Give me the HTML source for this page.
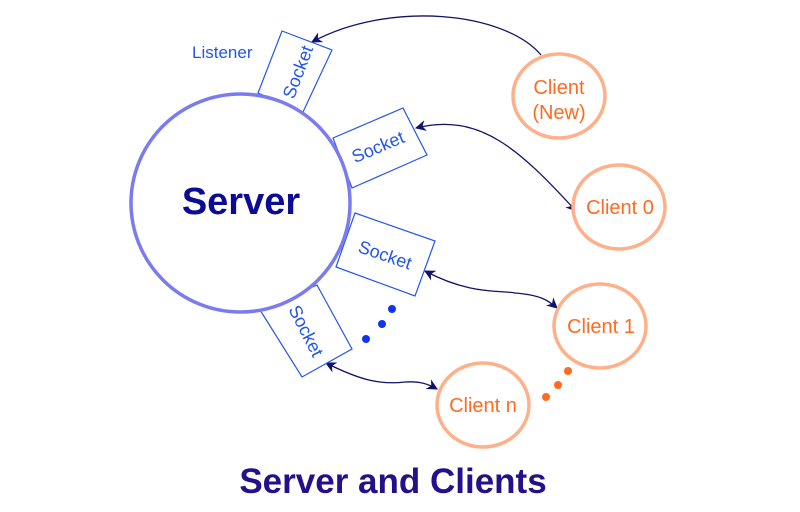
<!DOCTYPE html>
<html><head><meta charset="utf-8"><style>
html,body{margin:0;padding:0;background:#fff}
svg{display:block}
text{font-family:"Liberation Sans",sans-serif}
</style></head><body>
<svg width="800" height="512" viewBox="0 0 800 512">
<defs>
<marker id="a" viewBox="0 0 10 10" refX="9" refY="5" markerWidth="11" markerHeight="11" orient="auto-start-reverse" markerUnits="userSpaceOnUse">
<path d="M0,0 L10,5 L0,10 L3,5 Z" fill="#12126a"/></marker>
</defs>
<g fill="none" stroke="#12126a" stroke-width="1.3">
<path d="M541,55 C505,12 390,0 312,42" marker-end="url(#a)"/>
<path d="M416,128 C480,112 520,150 576,211" marker-start="url(#a)" marker-end="url(#a)"/>
<path d="M425,271 C470,295 500,290 515,293 C540,295 548,300 557,308" marker-start="url(#a)" marker-end="url(#a)"/>
<path d="M326,363 C360,380 380,385 405,382 C420,381 428,384 437,389" marker-start="url(#a)" marker-end="url(#a)"/>
</g>
<g fill="#fff" stroke="#2255ee" stroke-width="1.2">
<polygon points="282,31 332,50 303,112 258,93"/>
<polygon points="333,138 403,108 427,155 352,188"/>
<polygon points="355,213 435,241 415,296 336,267"/>
<polygon points="260,310 317,285 352,349 302,377"/>
</g>
<ellipse cx="240.5" cy="203" rx="109.5" ry="109" fill="#fff" stroke="#7b7bf0" stroke-width="3.5"/>
<text x="241" y="214" font-size="38" font-weight="bold" fill="#0b0b96" text-anchor="middle">Server</text>
<g fill="#2255ee" font-size="18" text-anchor="middle">
<text transform="translate(298,72) rotate(-69)" y="6">Socket</text>
<text transform="translate(378,147) rotate(-23)" y="6">Socket</text>
<text transform="translate(385,255) rotate(19)" y="6">Socket</text>
<text transform="translate(306,331) rotate(63)" y="6">Socket</text>
</g>
<text x="192" y="58" font-size="17" fill="#2255ee">Listener</text>
<g fill="#1133ee">
<circle cx="392" cy="309" r="4"/><circle cx="382" cy="324" r="4"/><circle cx="366" cy="339" r="4"/>
</g>
<g fill="#ff6a22">
<circle cx="568" cy="371" r="4"/><circle cx="558" cy="385" r="4"/><circle cx="546" cy="397" r="4"/>
</g>
<g fill="#fff" stroke="#fdb08a" stroke-width="3.5">
<ellipse cx="559" cy="96" rx="46" ry="42"/>
<ellipse cx="619" cy="207" rx="46" ry="42"/>
<ellipse cx="600" cy="326" rx="46" ry="42"/>
<ellipse cx="483" cy="405" rx="46" ry="42"/>
</g>
<g fill="#ff6a22" font-size="20" text-anchor="middle">
<text x="559" y="94">Client</text>
<text x="559" y="119">(New)</text>
<text x="620" y="214">Client 0</text>
<text x="601" y="333">Client 1</text>
<text x="483" y="412">Client n</text>
</g>
<text x="393" y="493" font-size="35" font-weight="bold" fill="#24108a" text-anchor="middle">Server and Clients</text>
</svg>
</body></html>
